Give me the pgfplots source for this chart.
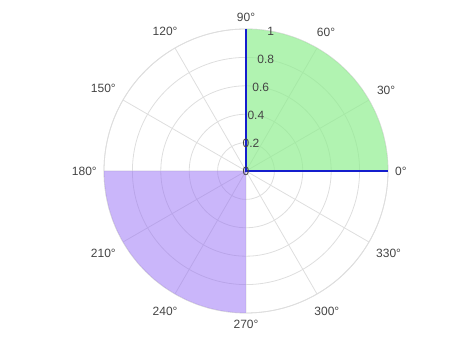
\documentclass[border=0pt]{standalone}
\usepackage{fontspec}
\setmainfont{Liberation Sans}
\usepackage{pgfplots}
\pgfplotsset{compat=1.18}
\usepgfplotslibrary{polar}
\definecolor{gridgray}{RGB}{222,222,222}
\definecolor{lblgray}{RGB}{68,68,68}
\definecolor{sgreen}{RGB}{144,238,144}
\definecolor{spurple}{RGB}{150,110,245}
\definecolor{lineblue}{RGB}{20,30,205}
\begin{document}
\begin{tikzpicture}[x=1pt,y=1pt]
\begin{polaraxis}[
  scale only axis, width=284pt, height=284pt,
  xmin=0, xmax=360, ymin=0, ymax=1,
  xtick={0,30,...,330},
  ytick={0,0.2,...,1},
  yticklabels={},
  /pgf/number format/assume math mode=true,
  xticklabel={\pgfmathprintnumber{\tick}°},
  xticklabel style={font=\fontsize{12}{14}\selectfont, text=lblgray, inner sep=7pt},
  grid=both,
  major grid style={gridgray, line width=0.8pt},
  axis line style={gridgray, line width=0.8pt},
  major tick length=0pt,
  clip=false,
]
\addplot[draw=none, fill=sgreen, fill opacity=0.7] coordinates {
 (0,0) (0,1) (5,1) (10,1) (15,1) (20,1) (25,1) (30,1) (35,1) (40,1) (45,1)
 (50,1) (55,1) (60,1) (65,1) (70,1) (75,1) (80,1) (85,1) (90,1) (90,0)} -- cycle;
\addplot[draw=none, fill=spurple, fill opacity=0.5] coordinates {
 (180,0) (180,1) (185,1) (190,1) (195,1) (200,1) (205,1) (210,1) (215,1) (220,1) (225,1)
 (230,1) (235,1) (240,1) (245,1) (250,1) (255,1) (260,1) (265,1) (270,1) (270,0)} -- cycle;
\addplot[lineblue, line width=1.6pt] coordinates {(90,1) (90,0) (0,0) (0,1)};
\coordinate (O) at (axis cs:0,0);
\foreach \r/\l in {0/0,0.2/0.2,0.4/0.4,0.6/0.6,0.8/0.8,1/1} {
  \edef\tmp{\noexpand\node[font=\noexpand\fontsize{12}{14}\noexpand\selectfont, text=lblgray, inner sep=0pt] at (axis cs:80,\r) {\l};}
  \tmp
}
\end{polaraxis}
\pgfresetboundingbox
\path[use as bounding box] ([shift={(-246pt,-184pt)}]O) rectangle ([shift={(228pt,171pt)}]O);
\end{tikzpicture}
\end{document}
